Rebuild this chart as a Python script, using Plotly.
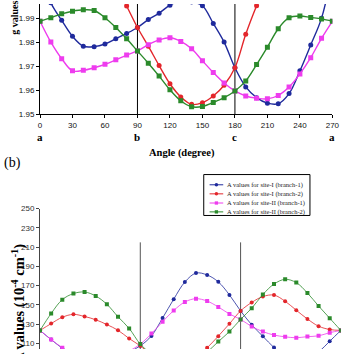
import plotly.graph_objects as go

# ---------------- data ----------------
angles = list(range(0, 271, 10))
x_ticks = [0, 30, 60, 90, 120, 150, 180, 210, 240, 270]
axis_letters = ["a", "b", "c", "a"]
axis_letter_pos = [0, 90, 180, 270]
boundaries = [90, 180]

# (a) g values
g_site1_b1 = [2.010, 1.9966, 1.9893, 1.9826, 1.9785, 1.9783, 1.9794, 1.9816, 1.9838, 1.9863,
              1.9896, 1.9923, 1.9956, 1.9975, 1.9970, 1.9954, 1.9880, 1.9802, 1.9695, 1.9615,
              1.9570, 1.9547, 1.9545, 1.9587, 1.9682, 1.9790, 1.9902, 2.010]
g_site1_b2 = [2.010, 2.014, 2.017, 2.018, 2.017, 2.014, 2.010, 2.004, 1.9953, 1.9863,
              1.9785, 1.9704, 1.9628, 1.9573, 1.9542, 1.9549, 1.9577, 1.9622, 1.9695, 1.9835,
              1.9954, 2.006, 2.012, 2.015, 2.016, 2.015, 2.013, 2.010]
g_site2_b1 = [1.9889, 1.9802, 1.9733, 1.9682, 1.9684, 1.9695, 1.9709, 1.9728, 1.9748, 1.9765,
              1.9791, 1.9811, 1.9820, 1.9805, 1.9774, 1.9724, 1.9675, 1.9631, 1.9598, 1.9577,
              1.9568, 1.9565, 1.9579, 1.9614, 1.9669, 1.9737, 1.9818, 1.9889]
g_site2_b2 = [1.9889, 1.9904, 1.9920, 1.9931, 1.9937, 1.9934, 1.9904, 1.9863, 1.9816, 1.9765,
              1.9714, 1.9660, 1.9603, 1.9557, 1.9532, 1.9533, 1.9550, 1.9570, 1.9598, 1.9640,
              1.9708, 1.9781, 1.9858, 1.9904, 1.9911, 1.9905, 1.9899, 1.9889]
g_ticks = [1.95, 1.96, 1.97, 1.98, 1.99]

# (b) A values (10^-4 cm^-1)
A_site1_b1 = [123.5, 114.0, 105.0, 97.0, 92.0, 90.0, 91.0, 95.0, 101.0, 107.5,
              117.8, 136.4, 156.0, 173.8, 183.1, 181.1, 174.0, 160.4, 143.8, 129.4,
              117.4, 105.7, 96.0, 91.0, 93.0, 101.0, 112.3, 123.5]
A_site1_b2 = [123.5, 130.6, 137.2, 140.2, 138.0, 134.6, 129.6, 123.7, 115.1, 107.5,
              98.0, 91.0, 88.0, 89.0, 95.0, 105.5, 117.6, 130.4, 143.8, 152.6,
              158.7, 160.2, 153.8, 144.5, 135.4, 127.9, 124.5, 123.5]
A_site2_b1 = [123.5, 114.0, 105.5, 98.0, 93.0, 91.0, 92.0, 96.0, 102.0, 109.3,
              120.2, 132.6, 144.2, 153.1, 156.5, 154.0, 147.9, 140.6, 135.0, 127.6,
              122.3, 118.7, 116.9, 115.9, 117.1, 117.9, 121.2, 123.5]
A_site2_b2 = [123.5, 141.1, 155.5, 161.8, 163.4, 159.3, 150.7, 137.7, 125.6, 109.3,
              99.0, 91.0, 87.0, 87.0, 92.0, 101.0, 111.9, 122.3, 135.0, 146.6,
              160.8, 171.7, 176.6, 173.2, 162.4, 148.9, 136.2, 123.5]
A_ticks = [110, 130, 150, 170, 190, 210, 230, 250]

legend_names = ["A values for site-I (branch-1)", "A values for site-I (branch-2)",
                "A values for site-II (branch-1)", "A values for site-II (branch-2)"]

# ---------------- style ----------------
W = H = 354
def PX(x):
    return x / W
def PY(y):
    return 1 - y / H

colors = ["#1f2a9c", "#e3262b", "#ee3cee", "#2b8a2b"]
symbols = ["circle", "circle", "square", "square"]
SERIF = "Liberation Serif"
SANS = "Liberation Sans"

fig = go.Figure()
for vals, c, s in zip([g_site1_b1, g_site1_b2, g_site2_b1, g_site2_b2], colors, symbols):
    fig.add_trace(go.Scatter(x=angles, y=vals, mode="lines+markers", xaxis="x", yaxis="y",
                             line=dict(color=c, width=1.4, shape="spline"),
                             marker=dict(color=c, size=5, symbol=s), showlegend=False))
for vals, c, s, n in zip([A_site1_b1, A_site1_b2, A_site2_b1, A_site2_b2], colors, symbols, legend_names):
    fig.add_trace(go.Scatter(x=angles, y=vals, mode="lines+markers", xaxis="x2", yaxis="y2",
                             line=dict(color=c, width=0.8, shape="spline"),
                             marker=dict(color=c, size=4, symbol=s), name=n, showlegend=False))

g_top = 1.95 + 113.3 / 2457.0
A_bot = 110 - (354 - 348.3) / 0.9879

fig.update_layout(
    width=W, height=H, margin=dict(l=0, r=0, t=0, b=0),
    paper_bgcolor="white", plot_bgcolor="white",
    xaxis=dict(domain=[PX(39), PX(339)], range=[0, 270], anchor="y",
               tickvals=x_ticks, ticks="outside", ticklen=3, tickcolor="black",
               showline=True, linecolor="black", linewidth=1, showgrid=False, zeroline=False,
               tickfont=dict(family=SANS, size=8, color="#111"), ticklabelstandoff=0),
    yaxis=dict(domain=[PY(113.3), 1], range=[1.95, g_top], anchor="x",
               tickvals=g_ticks, ticktext=[f"{v:.2f}" for v in g_ticks],
               ticks="outside", ticklen=3, tickcolor="black",
               showline=True, linecolor="black", linewidth=1, showgrid=False, zeroline=False,
               tickfont=dict(family=SANS, size=8, color="#111")),
    xaxis2=dict(domain=[PX(39), PX(347.7)], range=[0, 270], anchor="y2", visible=False),
    yaxis2=dict(domain=[0, PY(210)], range=[A_bot, 250], anchor="x2",
                tickvals=A_ticks, ticks="outside", ticklen=3, tickcolor="#444",
                showline=True, linecolor="#444", linewidth=1, showgrid=False, zeroline=False,
                tickfont=dict(family=SANS, size=8, color="#333")),
)

shapes = []
for b in boundaries:
    shapes.append(dict(type="line", xref="x", yref="y domain", x0=b, x1=b, y0=0, y1=1,
                       line=dict(color="black", width=1), layer="below"))
    shapes.append(dict(type="line", xref="x2", yref="y2", x0=b, x1=b, y0=A_bot, y1=215,
                       line=dict(color="#555", width=1), layer="below"))

# custom legend box
shapes.append(dict(type="rect", xref="paper", yref="paper", x0=PX(207), x1=PX(316),
                   y0=PY(217), y1=PY(175), line=dict(color="black", width=1), fillcolor="white"))
entry_y = [185.5, 194.8, 204.2, 213.3]
annotations = []
for i, (n, c) in enumerate(zip(legend_names, colors)):
    yy = entry_y[i]
    shapes.append(dict(type="line", xref="paper", yref="paper", x0=PX(213), x1=PX(227),
                       y0=PY(yy), y1=PY(yy), line=dict(color=c, width=1)))
    if symbols[i] == "square":
        shapes.append(dict(type="rect", xref="paper", yref="paper", x0=PX(218.3), x1=PX(221.7),
                           y0=PY(yy + 1.7), y1=PY(yy - 1.7), line=dict(width=0), fillcolor=c))
    else:
        shapes.append(dict(type="circle", xref="paper", yref="paper", x0=PX(218.2), x1=PX(221.8),
                           y0=PY(yy + 1.8), y1=PY(yy - 1.8), line=dict(width=0), fillcolor=c))
    annotations.append(dict(text=n, xref="paper", yref="paper", x=PX(229), y=PY(yy),
                            xanchor="left", yanchor="middle", showarrow=False,
                            font=dict(family=SERIF, size=6.5, color="#222")))

for lab, pos in zip(axis_letters, axis_letter_pos):
    annotations.append(dict(text=f"<b>{lab}</b>", xref="x", yref="paper", x=pos, y=PY(136.5),
                            xanchor="center", yanchor="middle", showarrow=False,
                            font=dict(family=SERIF, size=11, color="black")))
annotations.append(dict(text="<b>Angle (degree)</b>", xref="paper", yref="paper", x=PX(185), y=PY(153),
                        xanchor="center", yanchor="middle", showarrow=False,
                        font=dict(family=SERIF, size=10.5, color="black")))
annotations.append(dict(text="<b>g values</b>", xref="paper", yref="paper", x=PX(12), y=PY(14.5),
                        xanchor="center", yanchor="middle", textangle=-90, showarrow=False,
                        font=dict(family=SERIF, size=10, color="black")))
annotations.append(dict(text="(b)", xref="paper", yref="paper", x=PX(0), y=PY(163),
                        xanchor="left", yanchor="middle", showarrow=False,
                        font=dict(family=SERIF, size=14, color="black")))
annotations.append(dict(text="<b>A values (10<sup>-4</sup> cm<sup>-1</sup>)</b>", xref="paper", yref="paper",
                        x=PX(17), y=PY(307), xanchor="center", yanchor="middle", textangle=-90,
                        showarrow=False, font=dict(family=SERIF, size=14.5, color="black")))

fig.update_layout(shapes=shapes, annotations=annotations)
fig.write_html("out.html")
